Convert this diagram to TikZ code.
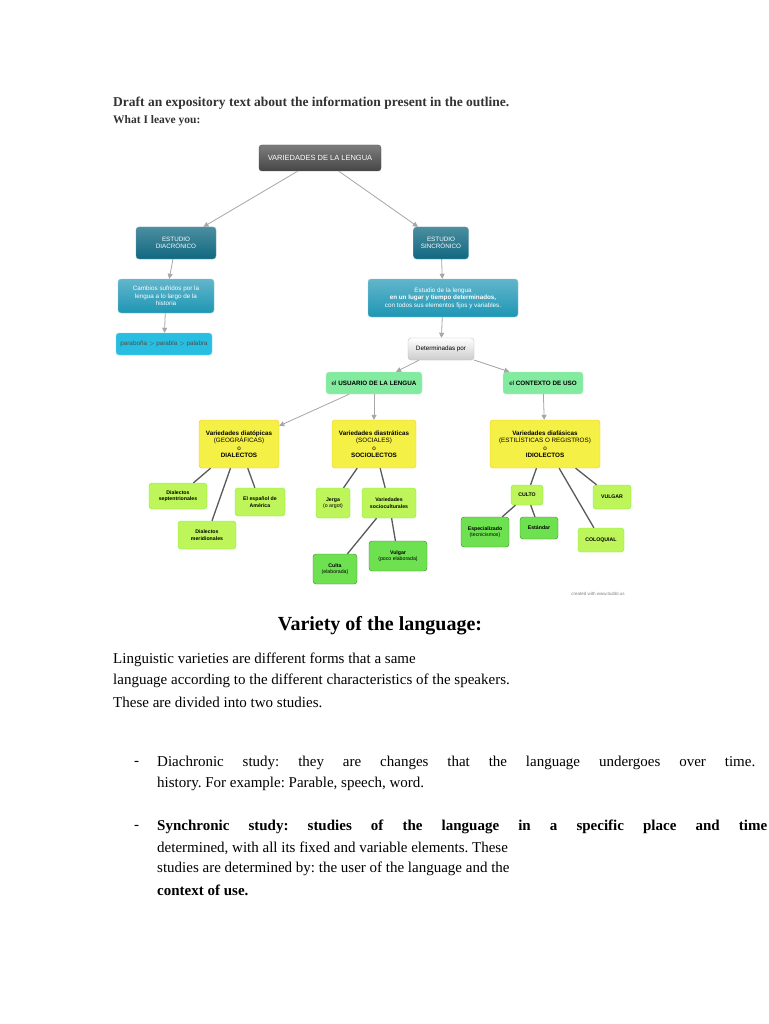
\documentclass[tikz,border=0pt]{standalone}
\usepackage{fontspec}
\setmainfont{Liberation Serif}
\newfontfamily\mapfont{Liberation Sans}
\usetikzlibrary{arrows.meta,positioning}
\definecolor{rootcolor}{RGB}{70,70,70}
\definecolor{darkteal}{RGB}{16,104,128}
\definecolor{midteal}{RGB}{30,150,180}
\definecolor{lightcyan}{RGB}{40,190,225}
\definecolor{mintcolor}{RGB}{130,235,160}
\definecolor{yellowcolor}{RGB}{245,240,70}
\definecolor{limecolor}{RGB}{190,245,90}
\definecolor{greencolor}{RGB}{110,225,80}

\begin{document}
\frenchspacing
\begin{tikzpicture}[x=1pt,y=-1pt,
    box/.style={rectangle, rounded corners=3pt, align=center, font=\mapfont\fontsize{6.3}{7.5}\selectfont, inner sep=1pt},
    rootbox/.style={box, top color=rootcolor!70, bottom color=rootcolor, draw=black!70, text=white, font=\mapfont\fontsize{7.5}{9}\selectfont},
    tealbox/.style={box, top color=darkteal!75, bottom color=darkteal, draw=darkteal!60, text=white},
    cyanbox/.style={box, top color=midteal!70, bottom color=midteal, draw=midteal!50, text=white},
    lightbox/.style={box, fill=lightcyan, draw=lightcyan!60, text=black!70},
    graybox/.style={box, top color=white, bottom color=black!20, draw=black!25},
    mintbox/.style={box, fill=mintcolor, draw=mintcolor!60},
    yellowbox/.style={box, fill=yellowcolor, draw=yellowcolor!60!orange},
    limebox/.style={box, fill=limecolor, draw=limecolor!60!green, font=\mapfont\fontsize{5.2}{6.5}\selectfont},
    greenbox/.style={limebox, fill=greencolor, draw=greencolor!60!black},
    link/.style={-{Triangle[length=5pt,width=5pt]}, black!35, thick},
    tie/.style={black!65, line width=1.3pt},
    body/.style={anchor=west, inner sep=0pt, font=\fontsize{15}{21}\selectfont}
]
\useasboundingbox (0,0) rectangle (768,1024);
\fill[white] (0,0) rectangle (768,1024);

% Heading
\node[body, font=\bfseries\fontsize{13.5}{16}\selectfont, text=black!80] (task) at (113,103) {Draft an expository text about the information present in the outline.};
\node[body, font=\bfseries\fontsize{11.5}{14}\selectfont, text=black!80] (leave) at (113,121) {What I leave you:};

% Concept map
\node[rootbox, minimum width=122pt, minimum height=26pt] (root) at (320,158) {VARIEDADES DE LA LENGUA};
\node[tealbox, minimum width=80pt, minimum height=32pt] (diac) at (176,243) {ESTUDIO\\DIACR\'ONICO};
\node[tealbox, minimum width=55pt, minimum height=32pt] (sinc) at (441,243) {ESTUDIO\\SINCR\'ONICO};
\node[cyanbox, minimum width=96pt, minimum height=34pt] (cambios) at (166,296) {Cambios sufridos por la\\lengua a lo largo de la\\historia};
\node[lightbox, minimum width=96pt, minimum height=22pt] (parab) at (164,344) {parabo\~na $>$ parabla $>$ palabra};
\node[cyanbox, minimum width=150pt, minimum height=38pt] (lugar) at (443,298) {Estudio de la lengua\\\textbf{en un lugar y tiempo determinados,}\\con todos sus elementos fijos y variables.};
\node[graybox, minimum width=66pt, minimum height=22pt] (determ) at (441,349) {Determinadas por};
\node[mintbox, minimum width=96pt, minimum height=22pt] (usuario) at (374,383) {el \textbf{USUARIO DE LA LENGUA}};
\node[mintbox, minimum width=80pt, minimum height=22pt] (contexto) at (543,383) {el \textbf{CONTEXTO DE USO}};
\node[yellowbox, minimum width=80pt, minimum height=48pt] (diatop) at (239,444) {\textbf{Variedades diat\'opicas}\\(GEOGR\'AFICAS)\\o\\\textbf{DIALECTOS}};
\node[yellowbox, minimum width=84pt, minimum height=48pt] (diastr) at (374,444) {\textbf{Variedades diastr\'aticas}\\(SOCIALES)\\o\\\textbf{SOCIOLECTOS}};
\node[yellowbox, minimum width=110pt, minimum height=48pt] (diafas) at (545,444) {\textbf{Variedades diaf\'asicas}\\(ESTIL\'ISTICAS O REGISTROS)\\o\\\textbf{IDIOLECTOS}};
\node[limebox, minimum width=58pt, minimum height=26pt] (sept) at (178,496) {\textbf{Dialectos}\\\textbf{septentrionales}};
\node[limebox, minimum width=50pt, minimum height=28pt] (america) at (260,502) {\textbf{El espa\~nol de}\\\textbf{Am\'erica}};
\node[limebox, minimum width=58pt, minimum height=28pt] (merid) at (207,535) {\textbf{Dialectos}\\\textbf{meridionales}};
\node[limebox, minimum width=34pt, minimum height=30pt] (jerga) at (333,503) {\textbf{Jerga}\\(o argot)};
\node[limebox, minimum width=54pt, minimum height=30pt] (socio) at (389,503) {\textbf{Variedades}\\\textbf{socioculturales}};
\node[greenbox, minimum width=44pt, minimum height=30pt] (culta) at (335,569) {\textbf{Culta}\\(elaborada)};
\node[greenbox, minimum width=58pt, minimum height=30pt] (vulgara) at (398,556) {\textbf{Vulgar}\\(poco elaborada)};
\node[limebox, minimum width=32pt, minimum height=20pt] (culto) at (527,495) {\textbf{CULTO}};
\node[greenbox, minimum width=48pt, minimum height=30pt] (espec) at (485,532) {\textbf{Especializado}\\(tecnicismos)};
\node[greenbox, minimum width=38pt, minimum height=22pt] (estandar) at (539,528) {\textbf{Est\'andar}};
\node[limebox, minimum width=38pt, minimum height=24pt] (vulgar) at (612,497) {\textbf{VULGAR}};
\node[limebox, minimum width=46pt, minimum height=24pt] (coloq) at (601,540) {\textbf{COLOQUIAL}};
\node[font=\mapfont\fontsize{4.5}{5}\selectfont, text=black!50] (bubbl) at (598,594) {created with www.bubbl.us};

% Arrows
\draw[link] (root) -- (diac);
\draw[link] (root) -- (sinc);
\draw[link] (diac) -- (cambios);
\draw[link] (cambios) -- (parab);
\draw[link] (sinc) -- (lugar);
\draw[link] (lugar) -- (determ);
\draw[link] (determ) -- (usuario);
\draw[link] (determ) -- (contexto);
\draw[link] (usuario) -- (diatop);
\draw[link] (usuario) -- (diastr);
\draw[link] (contexto) -- (diafas);

% Plain ties
\draw[tie] (diatop) -- (sept);
\draw[tie] (diatop) -- (merid);
\draw[tie] (diatop) -- (america);
\draw[tie] (diastr) -- (jerga);
\draw[tie] (diastr) -- (socio);
\draw[tie] (socio) -- (culta);
\draw[tie] (socio) -- (vulgara);
\draw[tie] (diafas) -- (culto);
\draw[tie] (diafas) -- (vulgar);
\draw[tie] (diafas) -- (coloq);
\draw[tie] (culto) -- (espec);
\draw[tie] (culto) -- (estandar);

% Text below
\node[font=\bfseries\fontsize{20}{24}\selectfont] (title) at (380,626) {Variety of the language:};
\node[body] (p1) at (113,660) {Linguistic varieties are different forms that a same};
\node[body] (p2) at (113,681) {language according to the different characteristics of the speakers.};
\node[body] (p3) at (113,702) {These are divided into two studies.};
\node[body] (dash1) at (134,763) {-};
\node[body] (d1) at (157,763) {\makebox[598pt][s]{Diachronic study: they are changes that the language undergoes over time.}};
\node[body] (d2) at (157,784) {history. For example: Parable, speech, word.};
\node[body] (dash2) at (134,827) {-};
\node[body] (s1) at (157,827) {\makebox[610pt][s]{\textbf{Synchronic study: studies of the language in a specific place and time}}};
\node[body] (s2) at (157,848) {determined, with all its fixed and variable elements. These};
\node[body] (s3) at (157,869) {studies are determined by: the user of the language and the};
\node[body] (s4) at (157,890) {\textbf{context of use.}};
\end{tikzpicture}
\end{document}
